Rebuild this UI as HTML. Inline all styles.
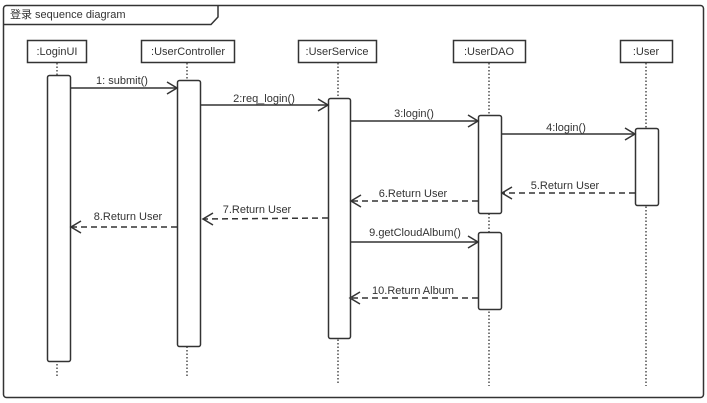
<!DOCTYPE html>
<html><head><meta charset="utf-8"><style>
html,body{margin:0;padding:0;background:#fff;}
svg{display:block;font-family:"Liberation Sans","Noto Sans CJK SC",sans-serif;}
</style></head><body>
<svg width="707" height="403" viewBox="0 0 707 403" xmlns="http://www.w3.org/2000/svg">
<rect x="0" y="0" width="707" height="403" fill="#fff"/>
<g stroke="#333" stroke-width="1.5" fill="none">
<rect x="3.5" y="5.5" width="700" height="392" rx="3"/>
<path d="M3.5 24.5 H211 L218 17 V5.5"/>
</g>
<text x="10" y="18" font-size="11" fill="#333">登录 sequence diagram</text>

<g stroke="#333" stroke-width="1.5" fill="#fff">
<rect x="27.5" y="40.5" width="59" height="22"/>
<rect x="141.5" y="40.5" width="93" height="22"/>
<rect x="298.5" y="40.5" width="78" height="22"/>
<rect x="453.5" y="40.5" width="72" height="22"/>
<rect x="620.5" y="40.5" width="52" height="22"/>
</g>
<g font-size="11" fill="#333" text-anchor="middle">
<text x="57" y="55">:LoginUI</text>
<text x="188" y="55">:UserController</text>
<text x="337" y="55">:UserService</text>
<text x="489" y="55">:UserDAO</text>
<text x="646" y="55">:User</text>
</g>

<g stroke="#333" stroke-width="1.3" stroke-dasharray="1.5 2" fill="none">
<line x1="57" y1="63" x2="57" y2="378"/>
<line x1="187" y1="63" x2="187" y2="378"/>
<line x1="338" y1="63" x2="338" y2="383"/>
<line x1="489" y1="63" x2="489" y2="386"/>
<line x1="646" y1="63" x2="646" y2="386"/>
</g>

<g stroke="#333" stroke-width="1.5" fill="#fff">
<rect x="47.5" y="75.5" width="23" height="286" rx="2"/>
<rect x="177.5" y="80.5" width="23" height="266" rx="2"/>
<rect x="328.5" y="98.5" width="22" height="240" rx="2"/>
<rect x="478.5" y="115.5" width="23" height="98" rx="2"/>
<rect x="478.5" y="232.5" width="23" height="77" rx="2"/>
<rect x="635.5" y="128.5" width="23" height="77" rx="2"/>
</g>

<g stroke="#333" stroke-width="1.5" fill="none">
<line x1="71" y1="88" x2="177" y2="88"/><path d="M167 82 L177 88 L167 94"/>
<line x1="201" y1="105" x2="328" y2="105"/><path d="M318 99 L328 105 L318 111"/>
<line x1="351" y1="121" x2="478" y2="121"/><path d="M468 115 L478 121 L468 127"/>
<line x1="502" y1="134" x2="635" y2="134"/><path d="M625 128 L635 134 L625 140"/>
<line x1="351" y1="242" x2="478" y2="242"/><path d="M468 236 L478 242 L468 248"/>
</g>
<g stroke="#333" stroke-width="1.5" fill="none">
<line x1="635" y1="193" x2="502" y2="193" stroke-dasharray="6 4"/><path d="M512 187 L502 193 L512 199"/>
<line x1="478" y1="201" x2="351" y2="201" stroke-dasharray="6 4"/><path d="M361 195 L351 201 L361 207"/>
<line x1="328" y1="218" x2="203" y2="219" stroke-dasharray="6 4"/><path d="M213 213 L203 219 L213 225"/>
<line x1="177" y1="227" x2="71" y2="227" stroke-dasharray="6 4"/><path d="M81 221 L71 227 L81 233"/>
<line x1="478" y1="298" x2="350" y2="298" stroke-dasharray="6 4"/><path d="M360 292 L350 298 L360 304"/>
</g>

<g font-size="11" fill="#333" text-anchor="middle">
<text x="122" y="84">1:  submit()</text>
<text x="264" y="102">2:req_login()</text>
<text x="414" y="117">3:login()</text>
<text x="566" y="131">4:login()</text>
<text x="565" y="189">5.Return User</text>
<text x="413" y="197">6.Return User</text>
<text x="257" y="213">7.Return User</text>
<text x="128" y="220">8.Return User</text>
<text x="415" y="236">9.getCloudAlbum()</text>
<text x="413" y="294">10.Return Album</text>
</g>
</svg>
</body></html>
